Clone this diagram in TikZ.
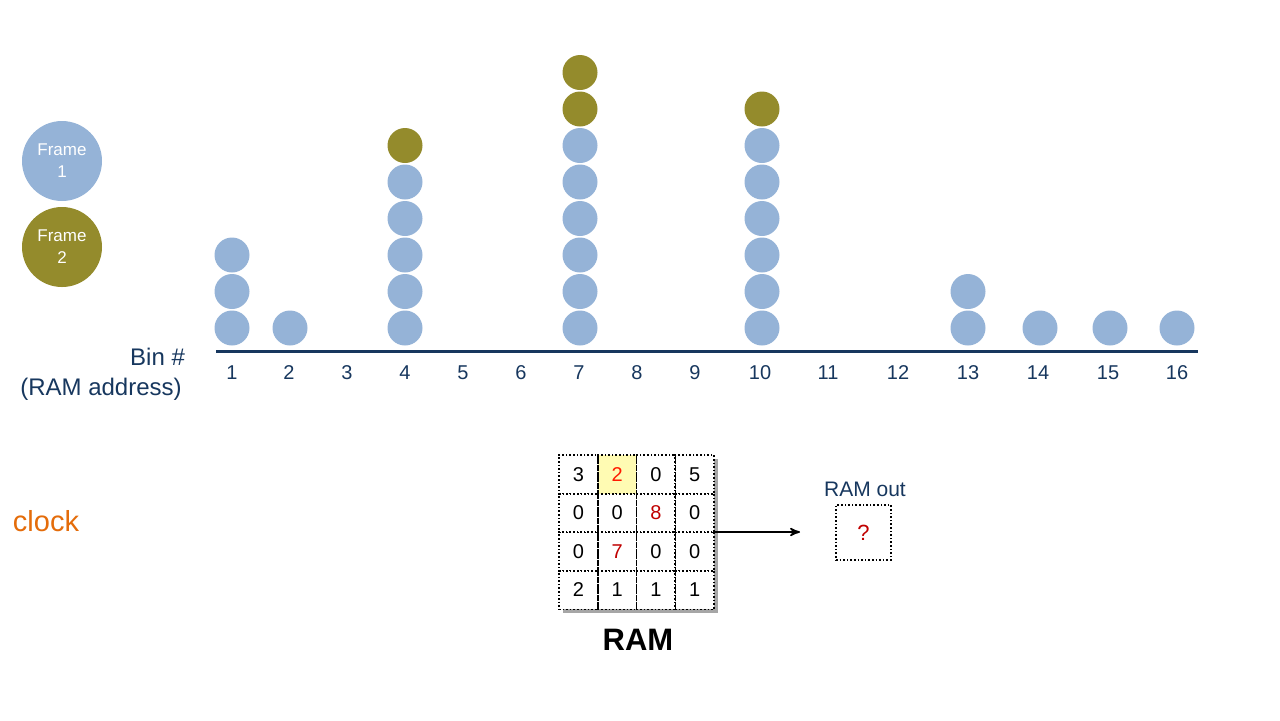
\documentclass[tikz,border=0pt]{standalone}
\usepackage{fontspec}
\setmainfont{Liberation Sans}
\usetikzlibrary{arrows}
\definecolor{frameone}{HTML}{95B3D7}
\definecolor{frametwo}{HTML}{948B2C}
\definecolor{navy}{HTML}{17375E}
\definecolor{redtxt}{HTML}{C00000}
\definecolor{clockc}{HTML}{E46C0A}
\begin{document}
\begin{tikzpicture}[x=0.5pt,y=-0.5pt,
  dot/.style={circle, inner sep=0, minimum size=18pt},
  cell/.style={draw, densely dotted, thick, minimum size=19.4pt, inner sep=0, font=\fontsize{10}{10}\selectfont}]
\useasboundingbox (0,0) rectangle (1280,720);
% legend
\node[dot, fill=frameone, minimum size=40pt, text=white, align=center, font=\fontsize{8.5}{11}\selectfont] (f1) at (62,161) {Frame\\1};
\node[dot, fill=frametwo, minimum size=40pt, text=white, align=center, font=\fontsize{8.5}{11}\selectfont] (f2) at (62,247) {Frame\\2};
% bins
\draw[navy, line width=1.5pt] (216,351)--(1198,351);
\node[navy, anchor=east, font=\fontsize{12}{12}\selectfont] (bin) at (192,357) {Bin \#};
\node[navy, font=\fontsize{12}{12}\selectfont] (addr) at (101,389) {(RAM address)};
\foreach \n/\x in {1/232,2/289,3/347,4/405,5/463,6/521,7/579,8/637,9/695,10/760,11/828,12/898,13/968,14/1038,15/1108,16/1177}
  \node[navy, font=\fontsize{10}{10}\selectfont] (b\n) at (\x,373) {\n};
\foreach \x/\nb/\no in {232/3/0,290/1/0,405/5/1,580/6/2,762/6/1,968/2/0,1040/1/0,1110/1/0,1177/1/0} {
  \foreach \i in {1,...,\nb}
    \fill[frameone] (\x,{328-36.5*(\i-1)}) circle (17.5);
  \ifnum\no>0
    \foreach \j in {1,...,\no}
      \fill[frametwo] (\x,{328-36.5*(\nb+\j-1)}) circle (17.5);
  \fi
}
\node[clockc, font=\fontsize{14.5}{14}\selectfont] (clk) at (46,521) {clock};
% RAM
\fill[black!35] (563,459) rectangle (718,613);
\fill[white] (559,455) rectangle (714,609);
\fill[yellow!30] (598,455) rectangle (636,494);
\foreach \r/\row in {0/{3,2,0,5},1/{0,0,8,0},2/{0,7,0,0},3/{2,1,1,1}} {
  \foreach \v [count=\c from 0] in \row
    \node[cell] (m\r\c) at ({578.4+38.75*\c},{474.4+38.5*\r}) {\v};
}
\node[cell, draw=none, fill=yellow!30, minimum size=18pt, text=red!80!orange] at (m01) {2};
\node[cell, draw=none, fill=white, minimum size=16pt, text=redtxt] at (m12) {8};
\node[cell, draw=none, fill=white, minimum size=16pt, text=redtxt] at (m21) {7};
\node[font=\bfseries\fontsize{15.5}{15}\selectfont] (ram) at (638,640) {RAM};
\coordinate (ramr) at (714,532);
\node[draw, densely dotted, thick, minimum size=27.5pt, inner sep=0, text=redtxt, font=\fontsize{11}{11}\selectfont] (out) at (863.5,532.5) {?};
\node[navy, font=\fontsize{10.5}{11}\selectfont] (outl) at (865,489) {RAM out};
\draw[->, >=stealth', thick] (ramr) -- (800,532);
\end{tikzpicture}
\end{document}
